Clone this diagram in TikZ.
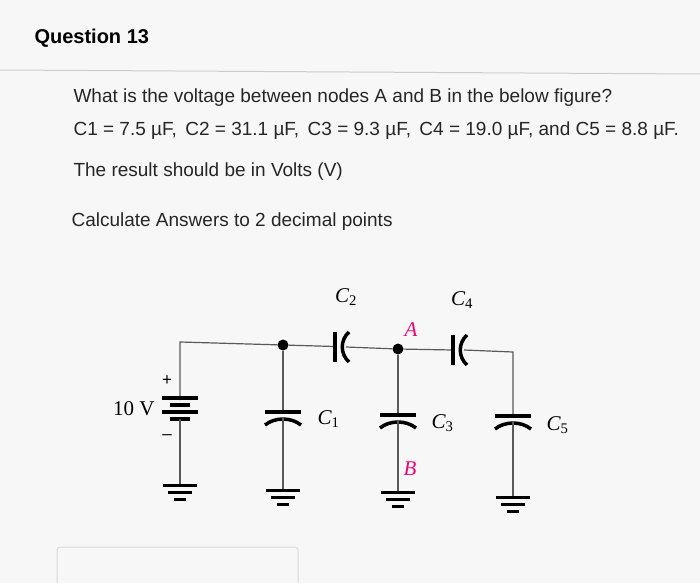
\documentclass[tikz,border=0pt]{standalone}
\usepackage{fontspec}
\setmainfont{Liberation Sans}
\newfontfamily\serifff{Liberation Serif}
\begin{document}
\begin{tikzpicture}[x=1pt,y=-1pt,
  wire/.style={draw=gray!70!black,line width=1.2pt},
  plate/.style={draw=black,line width=3.5pt},
  dotn/.style={circle,fill=black,inner sep=0pt,minimum size=11pt},
  qtext/.style={anchor=west,font=\fontsize{19}{22}\selectfont,text=black!85},
  clab/.style={font=\serifff\itshape\fontsize{21}{22}\selectfont},
  gnd/.pic={\draw[line width=3pt] (-17,0)--(17,0) (-12,7)--(12,7) (-6,14)--(6,14);}
]
\useasboundingbox (0,0) rectangle (700,583);
\fill[gray!6] (0,0) rectangle (700,583);
\node[anchor=west,font=\bfseries\fontsize{20}{22}\selectfont] (q) at (31,38) {Question 13};
\draw[gray!40,line width=1pt] (0,70) -- (700,74);
\node[qtext] (t1) at (70,98) {What is the voltage between nodes A and B in the below figure?};
\node[qtext] (t2) at (70,131) {C1 = 7.5 µF,\, C2 = 31.1 µF,\, C3 = 9.3 µF,\, C4 = 19.0 µF, and C5 = 8.8 µF.};
\node[qtext] (t3) at (70,172) {The result should be in Volts (V)};
\node[qtext] (t4) at (68,222) {Calculate Answers to 2 decimal points};
\draw[gray!30,line width=1pt,rounded corners=3pt] (57,583) -- (57,547) -- (298,547) -- (298,583);

% nodes
\coordinate (tl) at (180,342);
\node[dotn] (n1) at (283,345) {};
\node[dotn] (nA) at (398,349) {};
\coordinate (tr) at (513,352);
% wires top
\draw[wire] (180,400) -- (tl) -- (n1) -- (335,346.5);
\draw[wire] (346,347) -- (nA) -- (453,350);
\draw[wire] (464,350) -- (tr) -- (513,416);
% C2
\draw[plate] (335,332) -- (335,362);
\draw[plate] (349,332) .. controls (340,340) and (340,354) .. (349,362);
% C4
\draw[plate] (453,335) -- (453,365);
\draw[plate] (467,335) .. controls (458,343) and (458,357) .. (467,365);
% battery
\draw[plate] (162,398) -- (198,398);
\draw[plate] (170,405) -- (190,405);
\draw[plate] (162,412) -- (198,412);
\draw[plate] (170,419) -- (190,419);
\draw[wire] (180,419) -- (180,485);
\pic at (180,485) {gnd};
\node[font=\fontsize{17}{17}\selectfont] (plus) at (167,381) {+};
\node[font=\fontsize{17}{17}\selectfont] (minus) at (167,437) {--};
\node[font=\serifff\fontsize{21}{22}\selectfont,anchor=east] (v) at (158,409) {10 V};
% C1
\draw[wire] (n1) -- (283,412);
\draw[plate] (265,412) -- (301,412);
\draw[plate] (265,425) .. controls (275,417) and (291,417) .. (301,425);
\draw[wire] (283,418) -- (283,490);
\pic at (283,490) {gnd};
\node[clab,anchor=west] (c1) at (314,419) {C\textsubscript{\upshape 1}};
% C3
\draw[wire] (nA) -- (398,415);
\draw[plate] (380,415) -- (416,415);
\draw[plate] (380,428) .. controls (390,420) and (406,420) .. (416,428);
\draw[wire] (398,421) -- (398,492);
\pic at (398,492) {gnd};
\node[clab,anchor=west] (c3) at (428,423) {C\textsubscript{\upshape 3}};
% C5
\draw[plate] (495,416) -- (531,416);
\draw[plate] (495,429) .. controls (505,421) and (521,421) .. (531,429);
\draw[wire] (513,422) -- (513,497);
\pic at (513,497) {gnd};
\node[clab,anchor=west] (c5) at (543,425) {C\textsubscript{\upshape 5}};
% labels
\node[clab] (c2) at (346,297) {C\textsubscript{\upshape 2}};
\node[clab] (c4) at (462,300) {C\textsubscript{\upshape 4}};
\node[clab,text=magenta!80!red] (la) at (411,330) {A};
\node[clab,text=magenta!80!red] (lb) at (410,469) {B};
\end{tikzpicture}
\end{document}
